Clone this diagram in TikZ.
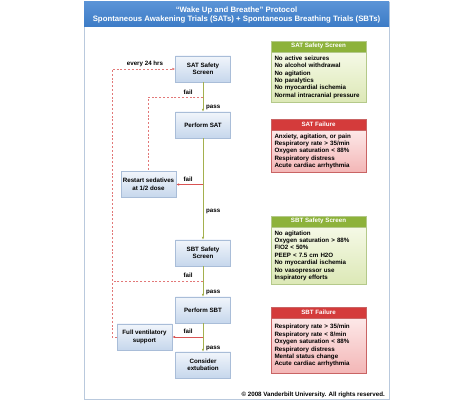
\documentclass[tikz,border=0pt]{standalone}
\usepackage{fontspec}
\setmainfont{Liberation Sans}
\usetikzlibrary{arrows.meta,calc,shadows}

\definecolor{barblue}{HTML}{3C7BC6}
\definecolor{barbluetop}{HTML}{5A93D6}
\definecolor{frameedge}{HTML}{B9C9DD}
\definecolor{boxtop}{HTML}{F1F5FB}
\definecolor{boxbot}{HTML}{C6D7EC}
\definecolor{boxedge}{HTML}{A9BDD8}
\definecolor{greenhead}{HTML}{8DB23A}
\definecolor{greentop}{HTML}{F5F9E6}
\definecolor{greenbot}{HTML}{DCE8B6}
\definecolor{greenedge}{HTML}{B4C98A}
\definecolor{redhead}{HTML}{D43B3B}
\definecolor{redtop}{HTML}{FDE8E8}
\definecolor{redbot}{HTML}{F3B6B6}
\definecolor{rededge}{HTML}{C96464}
\definecolor{passgreen}{HTML}{A4B04E}
\definecolor{failred}{HTML}{D95454}
\definecolor{looppink}{HTML}{E27878}

\begin{document}
\begin{tikzpicture}[
    x=1pt, y=-1pt,
    >={Latex[length=3pt,width=2.6pt]},
    every node/.style={font=\fontsize{6.2}{7.4}\selectfont\bfseries},
    flowbox/.style={draw=boxedge, top color=boxtop, bottom color=boxbot,
        minimum width=55pt, minimum height=26pt, align=center, inner sep=1pt,
        drop shadow={opacity=0.25, shadow xshift=0.6pt, shadow yshift=-0.6pt}},
    greenhead/.style={draw=greenedge, fill=greenhead, text=white, minimum width=95pt,
        minimum height=11pt, inner sep=0pt, anchor=south},
    greenbody/.style={draw=greenedge, top color=greentop, bottom color=greenbot,
        text width=88pt, inner xsep=3.5pt, inner ysep=0pt, align=left, anchor=north},
    redhead/.style={greenhead, draw=rededge, fill=redhead},
    redbody/.style={greenbody, draw=rededge, top color=redtop, bottom color=redbot},
    passarr/.style={->, color=passgreen, line width=1pt},
    failarr/.style={->, color=failred, line width=0.8pt},
    loopdash/.style={color=looppink, dash pattern=on 2pt off 1.8pt, line width=0.6pt},
    lbl/.style={inner sep=1pt}
]
    \useasboundingbox (0,0) rectangle (474,403);
    \fill[white] (0,0) rectangle (474,403);
    % frame and title bar
    \draw[frameedge, line width=0.8pt] (84,2) rectangle (389,399);
    \shade[top color=barbluetop, bottom color=barblue] (84,2) rectangle (389,27);
    \node[text=white, align=center, font=\fontsize{7.8}{9.8}\selectfont\bfseries] (title) at (236.5,15)
        {``Wake Up and Breathe'' Protocol\\Spontaneous Awakening Trials (SATs) + Spontaneous Breathing Trials (SBTs)};

    % flow boxes
    \node[flowbox] (satscreen) at (203,69) {SAT Safety\\Screen};
    \node[flowbox] (perfsat) at (203,125) {Perform SAT};
    \node[flowbox] (restart) at (148.5,184.5) {Restart sedatives\\at 1/2 dose};
    \node[flowbox] (sbtscreen) at (203,253) {SBT Safety\\Screen};
    \node[flowbox] (perfsbt) at (203,310) {Perform SBT};
    \node[flowbox] (fullvent) at (144.5,337) {Full ventilatory\\support};
    \node[flowbox] (extub) at (203,365) {Consider\\extubation};

    % pass path
    \draw[passarr] (satscreen.south) -- (perfsat.north);
    \draw[passarr] (perfsat.south) -- (sbtscreen.north);
    \draw[passarr] (sbtscreen.south) -- (perfsbt.north);
    \draw[passarr] (perfsbt.south) -- (extub.north);
    \node[lbl, anchor=west] (pass1) at (205,107) {pass};
    \node[lbl, anchor=west] (pass2) at (205,211) {pass};
    \node[lbl, anchor=west] (pass3) at (205,292) {pass};
    \node[lbl, anchor=west] (pass4) at (205,348) {pass};

    % fail paths
    \coordinate (satfail) at (203,97);
    \coordinate (sbtfail) at (203,281);
    \coordinate (loopcorner) at (112,337);
    \coordinate (satfailend) at (restart.east -| perfsat.south);
    \coordinate (sbtfailend) at (fullvent.east -| perfsbt.south);
    \draw[loopdash] (satfail) -| (restart.north);
    \draw[loopdash] (sbtfail) -- (sbtfail -| loopcorner);
    \draw[loopdash, ->] (fullvent.west) -- (loopcorner) |- (satscreen.west);
    \draw[failarr] (satfailend) -- (restart.east);
    \draw[failarr] (sbtfailend) -- (fullvent.east);
    \node[lbl] (fail1) at (188,92) {fail};
    \node[lbl] (fail2) at (188,179) {fail};
    \node[lbl] (fail3) at (188,275) {fail};
    \node[lbl] (fail4) at (188,331) {fail};
    \node[lbl] (every) at (145,64) {every 24 hrs};

    % SAT safety screen panel
    \node[greenhead] (satsafehead) at (318.5,52) {SAT Safety Screen};
    \node[greenbody, minimum height=50pt] (satsafebody) at (satsafehead.south)
        {No active seizures\\No alcohol withdrawal\\No agitation\\No paralytics\\No myocardial ischemia\\Normal intracranial pressure};
    % SAT failure panel
    \node[redhead] (satfailhead) at (318.5,130) {SAT Failure};
    \node[redbody, minimum height=42pt] (satfailbody) at (satfailhead.south)
        {Anxiety, agitation, or pain\\Respiratory rate > 35/min\\Oxygen saturation < 88\%\\Respiratory distress\\Acute cardiac arrhythmia};
    % SBT safety screen panel
    \node[greenhead] (sbtsafehead) at (318.5,227) {SBT Safety Screen};
    \node[greenbody, minimum height=57pt] (sbtsafebody) at (sbtsafehead.south)
        {No agitation\\Oxygen saturation > 88\%\\FIO2 < 50\%\\PEEP < 7.5 cm H2O\\No myocardial ischemia\\No vasopressor use\\Inspiratory efforts};
    % SBT failure panel
    \node[redhead] (sbtfailhead) at (318.5,318) {SBT Failure};
    \node[redbody, minimum height=55pt] (sbtfailbody) at (sbtfailhead.south)
        {Respiratory rate > 35/min\\Respiratory rate < 8/min\\Oxygen saturation < 88\%\\Respiratory distress\\Mental status change\\Acute cardiac arrhythmia};

    \node[anchor=east, inner sep=0pt] (copy) at (385,395) {© 2008 Vanderbilt University. All rights reserved.};
\end{tikzpicture}
\end{document}
